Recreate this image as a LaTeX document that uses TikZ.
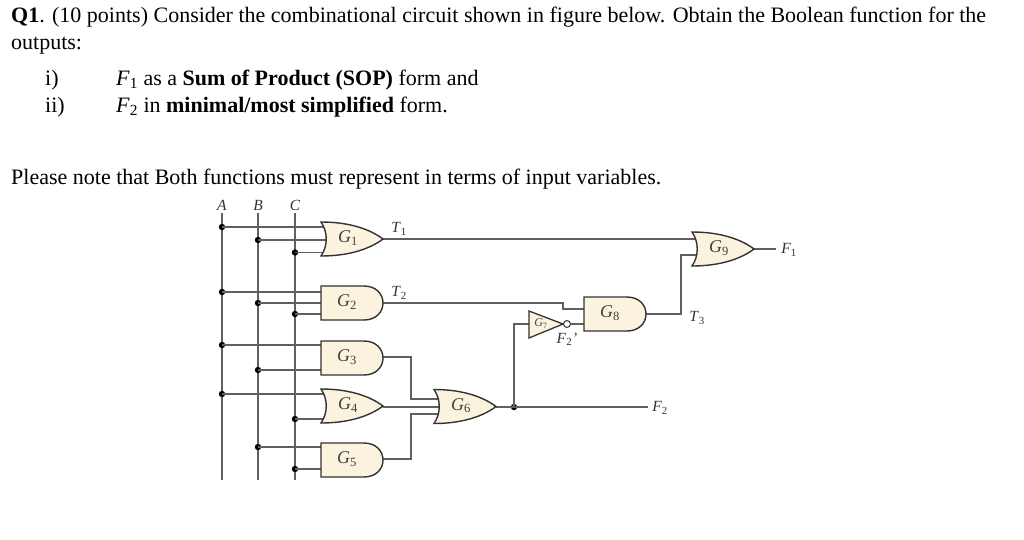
\documentclass[tikz,border=0pt]{standalone}
\usepackage{fontspec}
\setmainfont{Liberation Serif}
\newcommand{\sbs}[2]{\textit{#1}\textsubscript{#2}}
\newcommand{\orgate}[4]{%
  \begin{scope}[shift={(#2,#3)}]
  \path[gateshape] (0,0) .. controls (30,0) and (50,8) .. (62,17) .. controls (50,26) and (30,34) .. (0,34) .. controls (7,24) and (7,10) .. (0,0) -- cycle;
  \node[gatelabel] (#1) at (27,16) {#4};
  \end{scope}}
\newcommand{\andgate}[4]{%
  \begin{scope}[shift={(#2,#3)}]
  \path[gateshape] (0,0) -- (43,0) .. controls (55,0) and (62,8) .. (62,17) .. controls (62,26) and (55,34) .. (43,34) -- (0,34) -- cycle;
  \node[gatelabel] (#1) at (26,16) {#4};
  \end{scope}}
\definecolor{wire}{HTML}{606060}
\definecolor{gatefill}{HTML}{FCF3DF}
\tikzset{
  wireline/.style={draw=wire,line width=1.4pt},
  gateshape/.style={draw=black!80,fill=gatefill,line width=1.4pt},
  gatelabel/.style={font=\fontsize{18}{18}\selectfont,inner sep=0pt,text=black!75},
  diagramlabel/.style={font=\fontsize{15.5}{16}\selectfont,inner sep=0pt,text=black!80},
  bodytext/.style={font=\fontsize{22}{24}\selectfont,anchor=base west,inner sep=0pt},
  dotmark/.style={circle,fill=black,inner sep=0pt,minimum size=6.4pt}
}
\begin{document}
\begin{tikzpicture}[x=1pt,y=-1pt]
\useasboundingbox (0,0) rectangle (1024,539);
% text
\node[bodytext] (t1) at (11,22.5) {\textbf{Q1}. (10 points) Consider the combinational circuit shown in figure below. Obtain the Boolean function for the};
\node[bodytext] (t2) at (11,49.5) {outputs:};
\node[bodytext] (t3) at (45,85) {i)};
\node[bodytext] (t4) at (116,85) {\sbs{F}{1} as a \textbf{Sum of Product (SOP)} form and};
\node[bodytext] (t5) at (45,112) {ii)};
\node[bodytext] (t6) at (116,112) {\sbs{F}{2} in \textbf{minimal/most simplified} form.};
\node[bodytext] (t7) at (11,184) {Please note that Both functions must represent in terms of input variables.};
% input labels and rails
\node[diagramlabel] (A) at (222,205) {\textit{A}};
\node[diagramlabel] (B) at (258,205) {\textit{B}};
\node[diagramlabel] (C) at (295,205) {\textit{C}};
\coordinate (Atop) at (222,213); \coordinate (Abot) at (222,480);
\coordinate (Btop) at (258,213); \coordinate (Bbot) at (258,480);
\coordinate (Ctop) at (295,213); \coordinate (Cbot) at (295,480);
\draw[wireline] (Atop) -- (Abot);
\draw[wireline] (Btop) -- (Bbot);
\draw[wireline] (Ctop) -- (Cbot);
% junctions
\foreach \n/\x/\y in {a1/222/227,b1/258/240,c1/295/252.5,a2/222/292,b2/258/303,c2/295/314,a3/222/345,b3/258/370,a4/222/394,c4/295/419,b5/258/447,c5/295/469}
  {\node[dotmark] (\n) at (\x,\y) {};}
% gate positions used by the wires
\coordinate (G1p) at (326,239);
\coordinate (G2p) at (321,303);
\coordinate (G3p) at (321,357);
\coordinate (G4p) at (326,406);
\coordinate (G5p) at (321,459);
\foreach \n/\g in {a1/G1p,b1/G1p,c1/G1p,a2/G2p,b2/G2p,c2/G2p,a3/G3p,b3/G3p,a4/G4p,c4/G4p,b5/G5p,c5/G5p}
  {\draw[wireline] (\n.center) -- (\n.center -| \g);}
% wires between gates
\coordinate (T1end) at (697,239);
\coordinate (G6a) at (440,399);
\coordinate (G6c) at (440,414);
\coordinate (G6b) at (440,407);
\coordinate (G8a) at (584,309);
\coordinate (G8b) at (584,324);
\coordinate (G9b) at (697,255);
\coordinate (F1end) at (776,249);
\coordinate (F2end) at (648,407);
\node[dotmark] (J) at (514,407) {};
\draw[wireline] (383,239) -- (T1end);
\draw[wireline] (383,303) -- (563,303) -- (563,309) -- (G8a);
\draw[wireline] (383,357) -- (411,357) -- (411,399) -- (G6a);
\draw[wireline] (383,407) -- (G6b);
\draw[wireline] (383,459) -- (411,459) -- (411,414) -- (G6c);
\draw[wireline] (496,407) -- (J.center) -- (F2end);
\draw[wireline] (J.center) -- (514,324) -- (529,324);
\draw[wireline] (570.5,324) -- (G8b);
\draw[wireline] (646,314) -- (681,314) -- (681,255) -- (G9b);
\draw[wireline] (753,249) -- (F1end);
% gates
\orgate{G1}{321}{222}{\sbs{G}{1}}
\andgate{G2}{321}{286}{\sbs{G}{2}}
\andgate{G3}{321}{341}{\sbs{G}{3}}
\orgate{G4}{321}{389}{\sbs{G}{4}}
\andgate{G5}{321}{443}{\sbs{G}{5}}
\orgate{G6}{434}{389.5}{\sbs{G}{6}}
\andgate{G8}{584}{297}{\sbs{G}{8}}
\orgate{G9}{692}{232}{\sbs{G}{9}}
\path[gateshape,line width=1.3pt] (529,311) -- (563,324) -- (529,338) -- cycle;
\node[gatelabel,font=\fontsize{12}{12}\selectfont] (G7) at (541,323.5) {\sbs{G}{7}};
\node[draw=black!80,fill=white,circle,line width=1pt,inner sep=0pt,minimum size=7pt] (bub) at (567,324) {};
% signal labels
\node[diagramlabel] (T1) at (399,229) {\sbs{T}{1}};
\node[diagramlabel] (T2) at (399,293) {\sbs{T}{2}};
\node[diagramlabel] (T3) at (697,318) {\sbs{T}{3}};
\node[diagramlabel] (F1) at (789,250) {\sbs{F}{1}};
\node[diagramlabel] (F2) at (660,408) {\sbs{F}{2}};
\node[diagramlabel] (F2p) at (567,339) {\sbs{F}{2}\textit{'}};
\end{tikzpicture}
\end{document}
